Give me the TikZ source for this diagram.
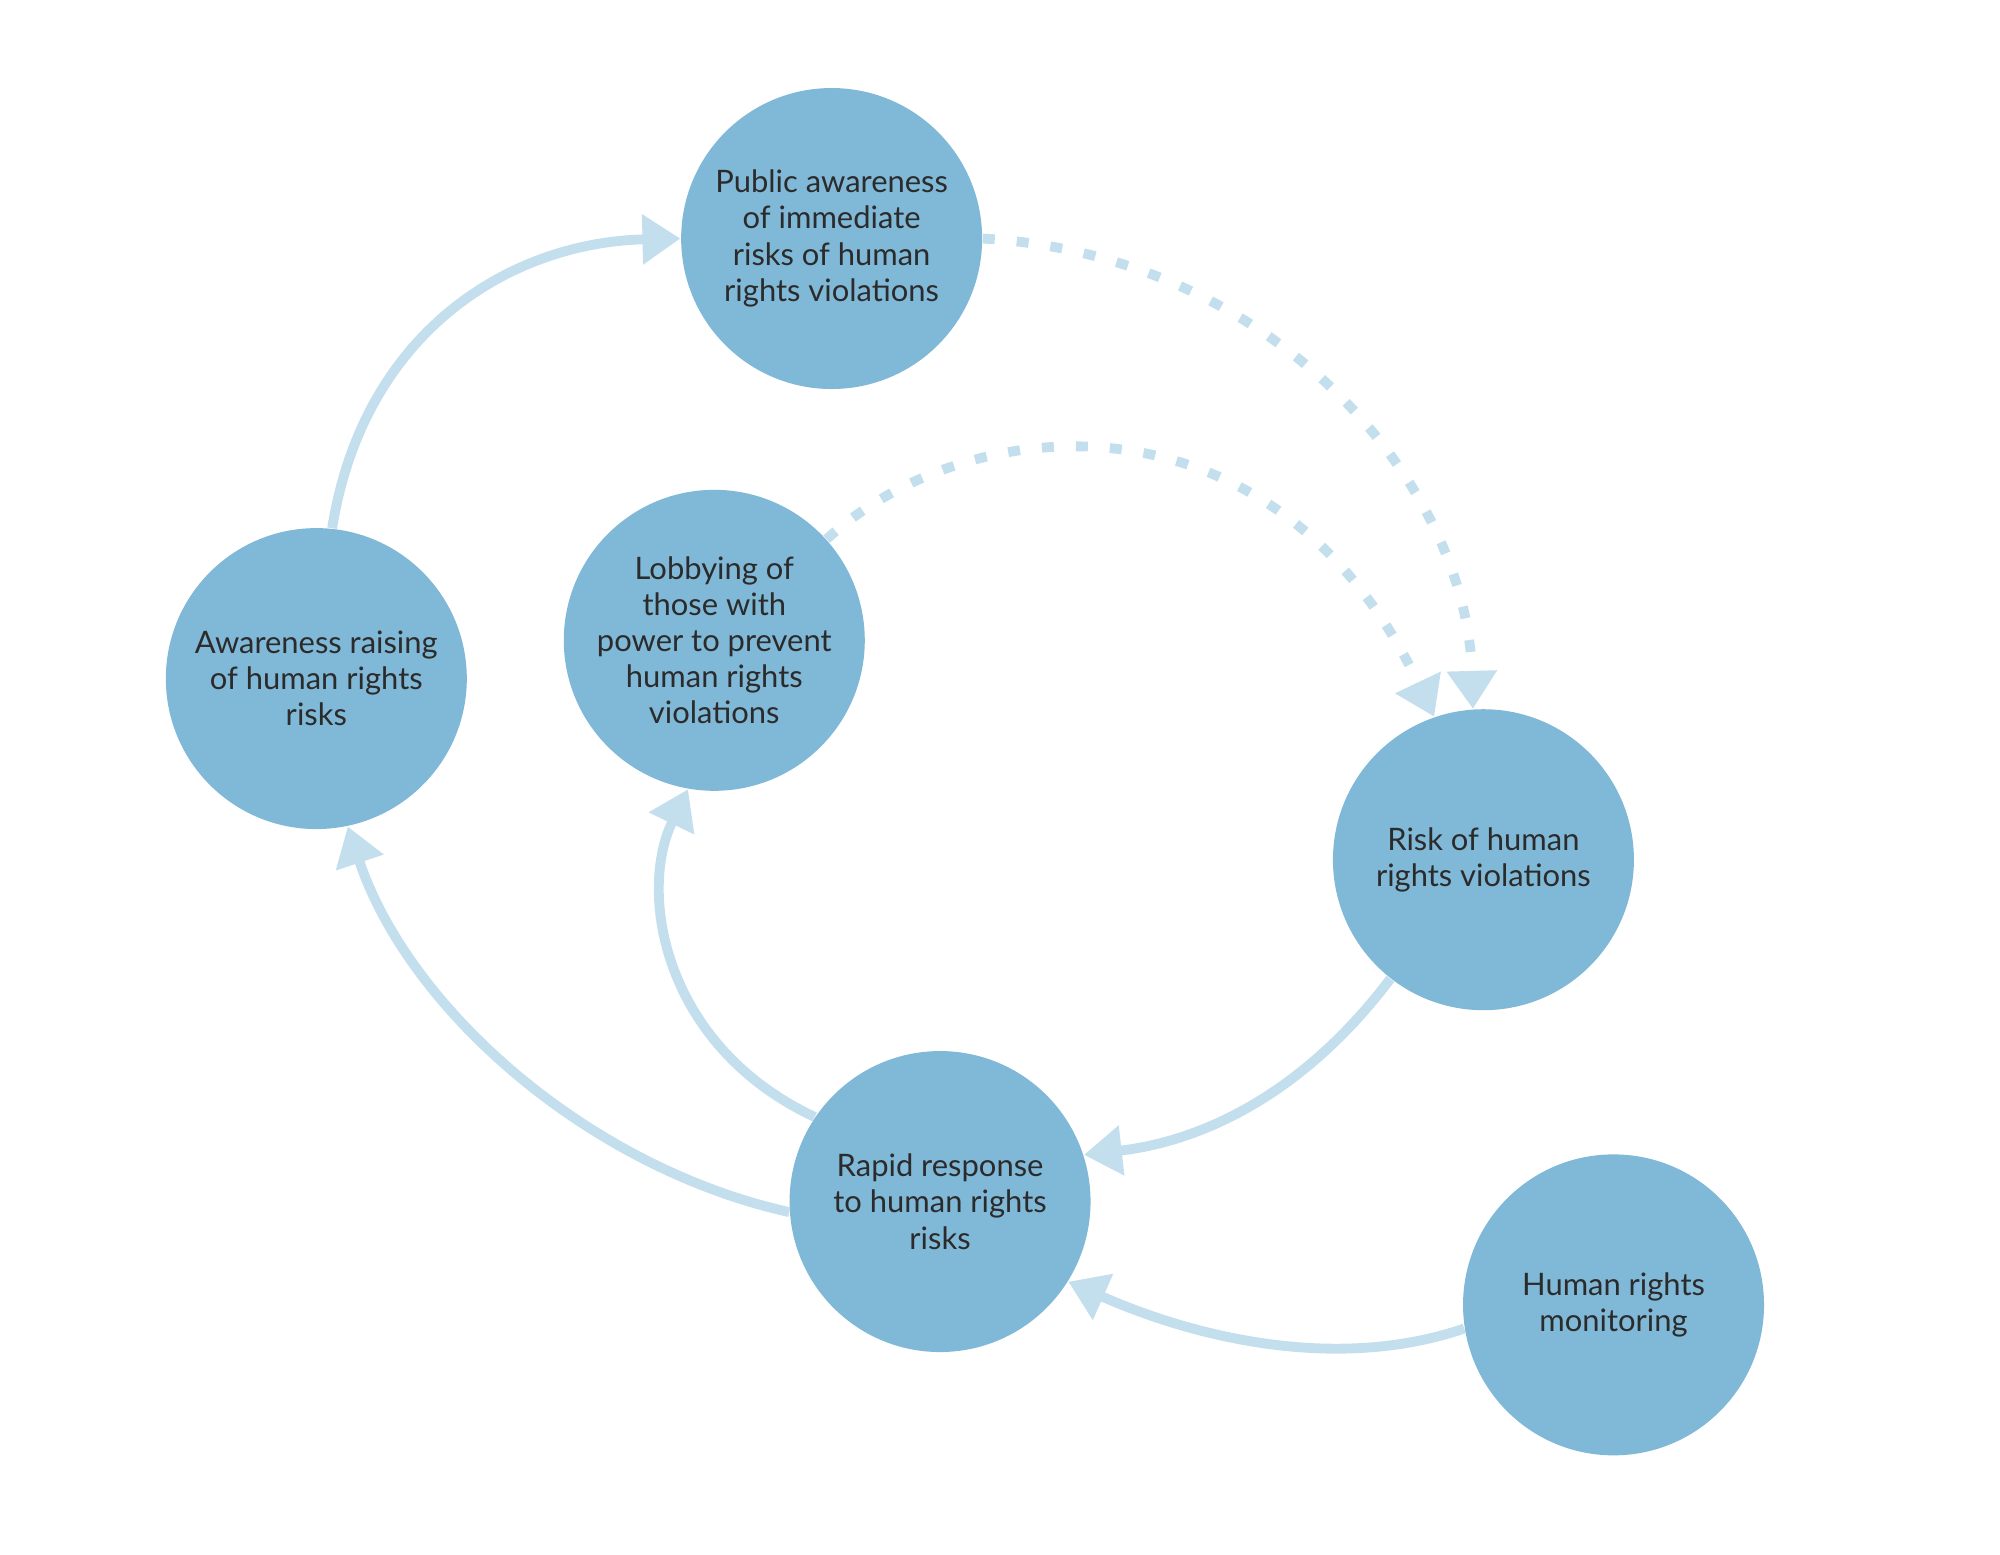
\documentclass[tikz,border=0pt]{standalone}
\usepackage{fontspec}
\setmainfont{Lato}
\usetikzlibrary{arrows.meta}
\definecolor{cfill}{HTML}{80B8D7}
\definecolor{carr}{HTML}{C3DEEC}
\definecolor{ctext}{HTML}{2B2B2B}
\begin{document}
\begin{tikzpicture}[x=0.01276cm,y=-0.01276cm,
  blob/.style={circle,fill=cfill,draw=none,minimum size=3.01cm,inner sep=0pt,align=center,text=ctext,font=\fontsize{8.8}{10.3}\selectfont},
  link/.style={draw=carr,line width=2.8pt,-{Triangle[length=0.38cm,width=0.48cm,fill=carr]}},
  dot/.style={link,dash pattern=on 0.12cm off 0.22cm}]
\useasboundingbox (0,0) rectangle (1568,1219);
\node[blob] (pub) at (652,187) {Public awareness\\of immediate\\risks of human\\rights violations};
\node[blob] (aw) at (248,532) {Awareness raising\\of human rights\\risks};
\node[blob] (lob) at (560,502) {Lobbying of\\those with\\power to prevent\\human rights\\violations};
\node[blob] (risk) at (1163,674) {Risk of human\\rights violations};
\node[blob] (rap) at (737,942) {Rapid response\\to human rights\\risks};
\node[blob] (mon) at (1265,1023) {Human rights\\monitoring};
\draw[link] (aw.84) .. controls (285,260) and (400,190) .. (pub.180);
\draw[dot] (pub.0) .. controls (1000,200) and (1150,380) .. (risk.94);
\draw[dot] (lob.42) .. controls (760,320) and (1000,300) .. (risk.109);
\draw[link] (risk.232) .. controls (1020,860) and (940,895) .. (rap.18);
\draw[link] (rap.184) .. controls (460,915) and (320,790) .. (aw.-78);
\draw[link] (rap.146) .. controls (520,820) and (500,700) .. (lob.-100);
\draw[link] (mon.189) .. controls (1050,1075) and (940,1050) .. (rap.-32);
\end{tikzpicture}
\end{document}
